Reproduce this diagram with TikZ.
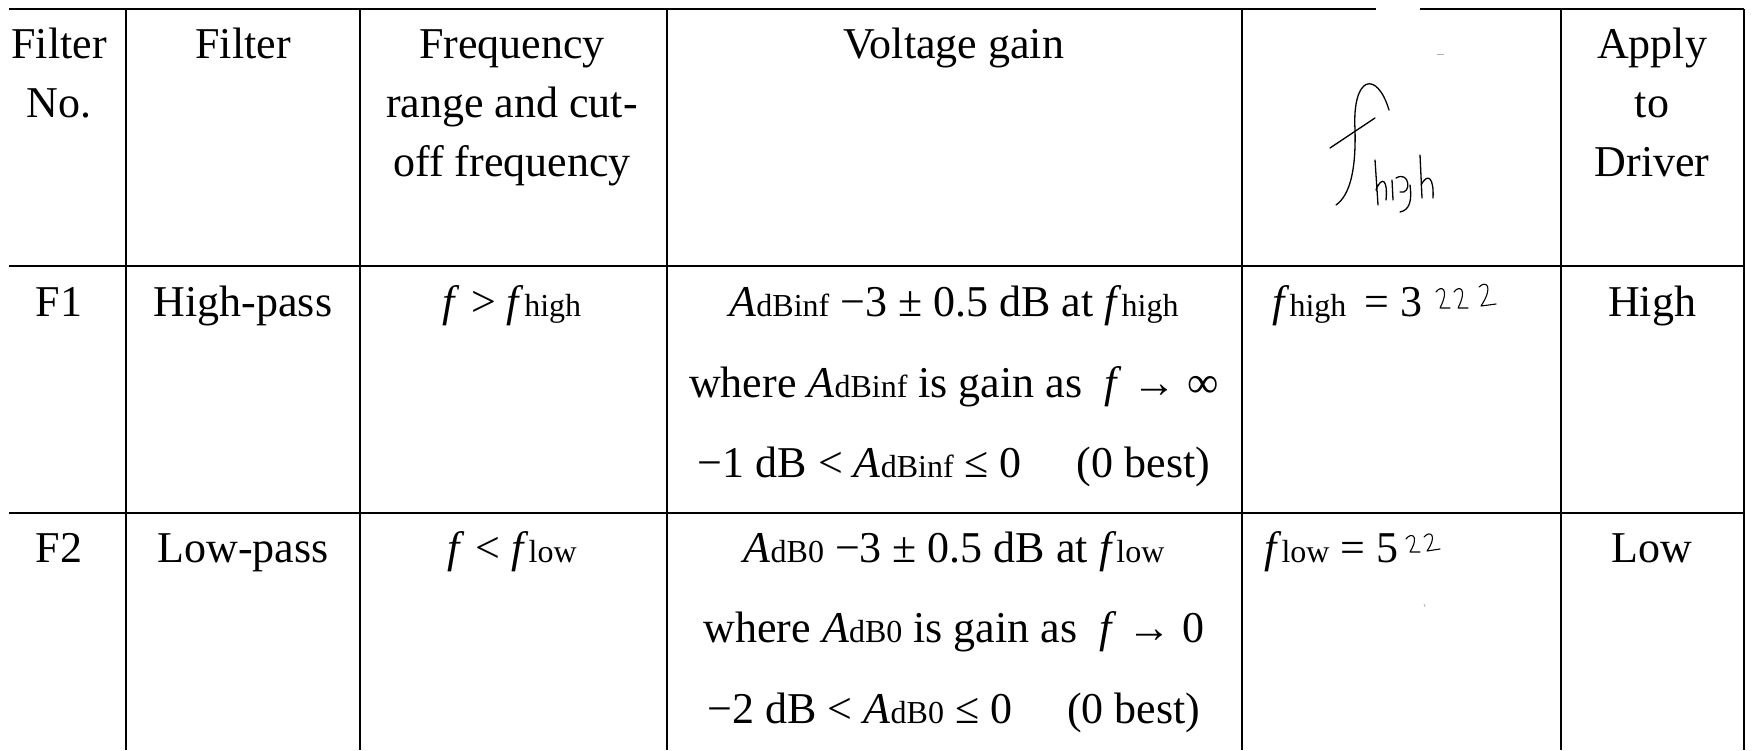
\documentclass[tikz,border=0pt]{standalone}
\usepackage{fontspec}
\setmainfont{Liberation Serif}
\newcommand{\sbs}[1]{{\fontsize{32}{36}\selectfont #1}}
\begin{document}
\begin{tikzpicture}[x=1pt,y=-1pt,
  grid/.style={line width=2.2pt},
  t/.style={font=\fontsize{44}{50}\selectfont,anchor=base,inner sep=0pt},
  hand/.style={line width=1.3pt,line cap=round,line join=round}]
\useasboundingbox (0,0) rectangle (1752,750);
\fill[white] (0,0) rectangle (1752,750);
% grid
\draw[grid] (9,9) -- (1376,9) (1420,9) -- (1744,9);
\draw[grid] (9,266) -- (1744,266) (9,513) -- (1744,513);
\foreach \x in {126,360,667,1242,1561}{\draw[line width=1.6pt] (\x,9) -- (\x,750);}
\draw[line width=1.6pt] (1744,9) -- (1744,750);
% header
\node[t] (h1a) at (59,58) {Filter};
\node[t] (h1b) at (59,117) {No.};
\node[t] (h2) at (243,58) {Filter};
\node[t] (h3a) at (512,58) {Frequency};
\node[t] (h3b) at (512,117) {range and cut-};
\node[t] (h3c) at (512,176) {off frequency};
\node[t] (h4) at (954,58) {Voltage gain};
\node[t] (h6a) at (1652,58) {Apply};
\node[t] (h6b) at (1652,117) {to};
\node[t] (h6c) at (1652,176) {Driver};
% handwritten f_high
\draw[hand] (1389,110) .. controls (1377,70) and (1352,75) .. (1355,130) .. controls (1356,170) and (1350,195) .. (1336,205);
\draw[hand] (1330,148) -- (1375,118);
\draw[hand] (1375,160) -- (1378,205) (1376,190) .. controls (1382,175) and (1388,180) .. (1386,200);
\draw[hand] (1392,180) -- (1393,200) (1396,178) .. controls (1410,170) and (1412,195) .. (1400,192) (1410,185) .. controls (1412,200) and (1410,210) .. (1400,212);
\draw[hand] (1420,155) -- (1422,198) (1421,185) .. controls (1428,172) and (1434,178) .. (1433,198);
\draw[gray!60,line width=0.8pt] (1437,54) -- (1444,54);
% row F1
\node[t] (a1) at (59,316) {F1};
\node[t] (b1) at (243,316) {High-pass};
\node[t] (c1) at (512,316) {\textit{f} > \textit{f}\sbs{high}};
\node[t] (d1a) at (954,316) {\textit{A}\sbs{dBinf} −3 ± 0.5 dB at \textit{f}\sbs{high}};
\node[t] (d1b) at (954,397) {where \textit{A}\sbs{dBinf} is gain as \ \textit{f} → ∞};
\node[t] (d1c) at (954,477) {−1 dB < \textit{A}\sbs{dBinf} ≤ 0 \quad (0 best)};
\node[t,anchor=base west] (e1) at (1272,316) {\textit{f}\sbs{high} \,= 3};
\draw[hand,line width=1.1pt] (1436,292) .. controls (1441,285) and (1450,288) .. (1440,308) -- (1450,308)
  (1454,292) .. controls (1459,285) and (1468,288) .. (1458,308) -- (1468,308)
  (1479,287) .. controls (1486,280) and (1494,286) .. (1481,306) -- (1496,304);
\node[t] (f1) at (1652,316) {High};
% row F2
\node[t] (a2) at (59,562) {F2};
\node[t] (b2) at (243,562) {Low-pass};
\node[t] (c2) at (512,562) {\textit{f} < \textit{f}\sbs{low}};
\node[t] (d2a) at (954,562) {\textit{A}\sbs{dB0} −3 ± 0.5 dB at \textit{f}\sbs{low}};
\node[t] (d2b) at (954,642) {where \textit{A}\sbs{dB0} is gain as \ \textit{f} → 0};
\node[t] (d2c) at (954,723) {−2 dB < \textit{A}\sbs{dB0} ≤ 0 \quad (0 best)};
\node[t,anchor=base west] (e2) at (1264,562) {\textit{f}\sbs{low} = 5};
\draw[hand,line width=1.1pt] (1406,539) .. controls (1411,532) and (1420,535) .. (1410,552) -- (1420,552)
  (1424,537) .. controls (1430,530) and (1438,535) .. (1427,551) -- (1440,549);
\draw[gray!60,line width=0.8pt] (1424,604) -- (1425,607);
\node[t] (f2) at (1652,562) {Low};
\end{tikzpicture}
\end{document}
